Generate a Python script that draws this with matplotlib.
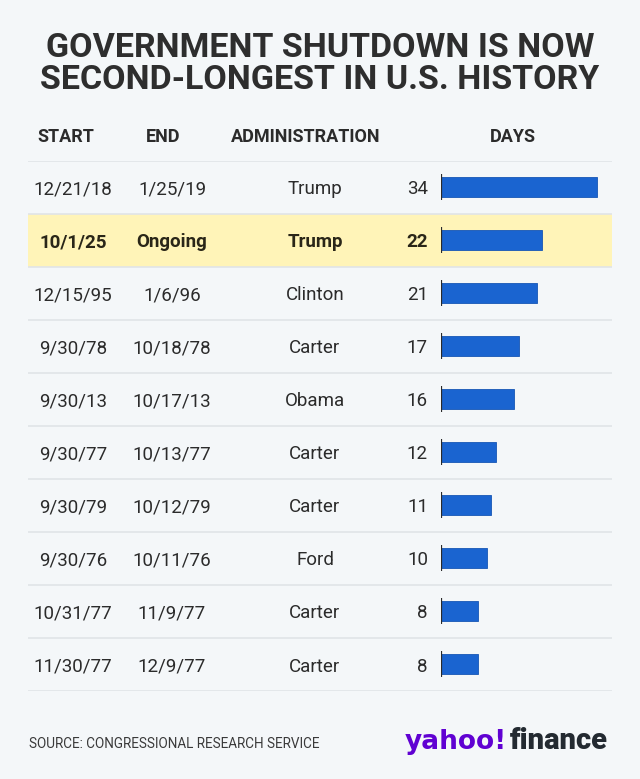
import matplotlib
matplotlib.use("Agg")
import matplotlib.pyplot as plt
import numpy as np

# ---------------- data ----------------
starts = ["12/21/18", "10/1/25", "12/15/95", "9/30/78", "9/30/13",
          "9/30/77", "9/30/79", "9/30/76", "10/31/77", "11/30/77"]
ends = ["1/25/19", "Ongoing", "1/6/96", "10/18/78", "10/17/13",
        "10/13/77", "10/12/79", "10/11/76", "11/9/77", "12/9/77"]
admins = ["Trump", "Trump", "Clinton", "Carter", "Obama",
          "Carter", "Carter", "Ford", "Carter", "Carter"]
days = [34, 22, 21, 17, 16, 12, 11, 10, 8, 8]
headers = ["START", "END", "ADMINISTRATION", "DAYS"]
highlight = 1
title_lines = ["GOVERNMENT SHUTDOWN IS NOW", "SECOND-LONGEST IN U.S. HISTORY"]
source = "SOURCE: CONGRESSIONAL RESEARCH SERVICE"

# ---------------- style ----------------
W, H = 640, 779
BG = "#f4f7f9"
TXT = "#2b2b2b"
BLUE = "#1a64d0"
YELLOW = "#fff4b8"
SEP = "#e0e4e8"
FONT = ["Roboto", "DejaVu Sans"]

fig = plt.figure(figsize=(W / 100, H / 100), dpi=100, facecolor=BG)

n = len(days)
rows = np.arange(n)
top_px, bot_px = 161, 691
row_px = (bot_px - top_px) / n

def fy(px):
    return 1 - px / H

# table axes (x in pixels, y in rows)
tab = fig.add_axes([0, fy(bot_px), 1, (bot_px - top_px) / H])
tab.set_xlim(0, W)
tab.set_ylim(n - 0.5, -0.5)
tab.axis("off")
tab.patch.set_alpha(0)

tab.axhspan(highlight - 0.5, highlight + 0.5, xmin=28 / W, xmax=612 / W,
            color=YELLOW, zorder=0, lw=0)
tab.hlines(np.arange(-0.5, n + 0.5, 1.0), 28, 612, color=SEP, lw=1.2, zorder=1)

base = 7 / row_px
for i in rows:
    hl = i == highlight
    wt = "bold" if hl else "normal"
    col = "#2a2618" if hl else TXT
    kw = dict(family=FONT, fontsize=13.5, weight=wt, color=col, va="baseline")
    tab.text(73, i + base, starts[i], ha="center", **kw)
    tab.text(172, i + base, ends[i], ha="center", **kw)
    tab.text(315, i + base, admins[i], ha="center", **kw)
    tab.text(428, i + base, str(days[i]), ha="right", **kw)

hy = -0.5 - (161 - 142) / row_px
hkw = dict(family=FONT, fontsize=13, weight="bold", color=TXT, va="baseline")
tab.text(37, hy, headers[0], ha="left", **hkw)
tab.text(163, hy, headers[1], ha="center", **hkw)
tab.text(306, hy, headers[2], ha="center", **hkw)
tab.text(513, hy, headers[3], ha="center", **hkw)

# bar axes (x in days)
px_per_day = 4.59
bx0, bx1 = 441, 612
bar = fig.add_axes([bx0 / W, fy(bot_px), (bx1 - bx0) / W, (bot_px - top_px) / H])
bar.set_xlim(0, (bx1 - bx0) / px_per_day)
bar.set_ylim(n - 0.5, -0.5)
bar.axis("off")
bar.patch.set_alpha(0)
bar.barh(rows, days, height=20 / row_px, color=BLUE, edgecolor="#1656b5",
         lw=0.6, zorder=2)
bar.vlines(np.zeros(n), rows - 13 / row_px, rows + 13 / row_px, color="#2a2a2a",
           lw=1.6, zorder=3)

# title
for k, yb in enumerate([57, 89]):
    fig.text(0.5, fy(yb), title_lines[k], ha="center", va="baseline",
             family=FONT, weight="bold", fontsize=24.5, color="#2e2e2e")

# footer
fig.text(29 / W, fy(748), source, ha="left", va="baseline",
         family=FONT, fontsize=9.75, color="#3a3a3a")
fig.text(507 / W, fy(749), "yahoo!", ha="right", va="baseline",
         family=["DejaVu Sans"], weight="bold", fontsize=19, color="#6001d2")
fig.text(510 / W, fy(749), "finance", ha="left", va="baseline",
         family=FONT, weight="heavy", fontsize=21, color="#232a31")

fig.savefig("out.png", dpi=100, facecolor=BG)
